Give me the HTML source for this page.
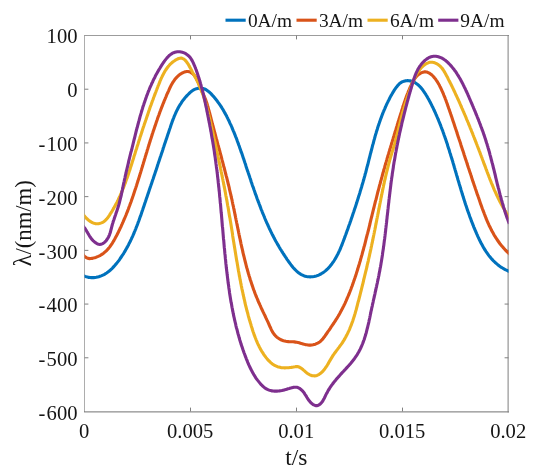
<!DOCTYPE html>
<html><head><meta charset="utf-8"><title>plot</title>
<style>
html,body{margin:0;padding:0;background:#fff;}
body{width:550px;height:476px;overflow:hidden;}
svg{display:block;}
text{font-family:"Liberation Serif",serif;fill:#151515;}
</style></head><body>
<svg width="550" height="476" viewBox="0 0 550 476">
<rect x="0" y="0" width="550" height="476" fill="#fff"/>

<g fill="none" stroke-width="1" shape-rendering="crispEdges">
<line x1="84.0" y1="35.5" x2="509.0" y2="35.5" stroke="#9c9c9c"/>
<line x1="84.5" y1="35.5" x2="84.5" y2="412.0" stroke="#adadad"/>
</g>
<g fill="none">
<line x1="84.0" y1="411.9" x2="509.0" y2="411.9" stroke="#727272" stroke-width="1"/>
<line x1="508.1" y1="35.0" x2="508.1" y2="412.4" stroke="#7e7e7e" stroke-width="1"/>
</g>
<g fill="none" stroke="#808080" stroke-width="1">
<line x1="190.5" y1="411.5" x2="190.5" y2="407.6"/>
<line x1="190.5" y1="35.5" x2="190.5" y2="39.4"/>
<line x1="296.5" y1="411.5" x2="296.5" y2="407.6"/>
<line x1="296.5" y1="35.5" x2="296.5" y2="39.4"/>
<line x1="402.5" y1="411.5" x2="402.5" y2="407.6"/>
<line x1="402.5" y1="35.5" x2="402.5" y2="39.4"/>
<line x1="84.5" y1="89.21" x2="88.4" y2="89.21"/>
<line x1="508.5" y1="89.21" x2="504.6" y2="89.21"/>
<line x1="84.5" y1="142.93" x2="88.4" y2="142.93"/>
<line x1="508.5" y1="142.93" x2="504.6" y2="142.93"/>
<line x1="84.5" y1="196.64" x2="88.4" y2="196.64"/>
<line x1="508.5" y1="196.64" x2="504.6" y2="196.64"/>
<line x1="84.5" y1="250.36" x2="88.4" y2="250.36"/>
<line x1="508.5" y1="250.36" x2="504.6" y2="250.36"/>
<line x1="84.5" y1="304.07" x2="88.4" y2="304.07"/>
<line x1="508.5" y1="304.07" x2="504.6" y2="304.07"/>
<line x1="84.5" y1="357.79" x2="88.4" y2="357.79"/>
<line x1="508.5" y1="357.79" x2="504.6" y2="357.79"/>
</g>
<clipPath id="c"><rect x="84.5" y="35.5" width="424.0" height="376.0"/></clipPath>
<g fill="none" stroke-width="3.1" stroke-linejoin="round" stroke-linecap="butt" clip-path="url(#c)">
<path stroke="#0072BD" d="M81.9,274.6 L82.9,275.3 L84.0,275.9 L85.1,276.4 L86.3,276.8 L87.5,277.1 L88.7,277.4 L90.0,277.5 L91.3,277.6 L92.5,277.6 L93.8,277.6 L95.1,277.5 L96.3,277.3 L97.6,277.0 L98.8,276.7 L100.0,276.3 L101.2,275.9 L102.3,275.4 L103.4,274.9 L104.5,274.3 L105.5,273.7 L106.6,273.0 L107.6,272.3 L108.6,271.6 L109.5,270.8 L110.5,270.0 L111.4,269.1 L112.3,268.3 L113.1,267.4 L114.0,266.4 L114.8,265.5 L115.6,264.5 L116.4,263.6 L117.2,262.6 L118.0,261.6 L118.8,260.6 L119.5,259.6 L120.2,258.5 L120.9,257.5 L121.6,256.5 L122.3,255.4 L123.0,254.4 L123.7,253.3 L124.3,252.3 L125.0,251.2 L125.6,250.1 L126.2,249.0 L126.8,247.9 L127.4,246.9 L128.0,245.8 L128.6,244.7 L129.1,243.5 L129.7,242.4 L130.3,241.3 L130.8,240.2 L131.3,239.1 L131.8,237.9 L132.4,236.8 L132.9,235.7 L133.4,234.5 L133.9,233.4 L134.3,232.2 L134.8,231.1 L135.3,229.9 L135.8,228.8 L136.2,227.6 L136.7,226.4 L137.1,225.3 L137.6,224.1 L138.0,222.9 L138.4,221.8 L138.9,220.6 L139.3,219.4 L139.7,218.2 L140.1,217.0 L140.6,215.9 L141.0,214.7 L141.4,213.5 L141.8,212.3 L142.2,211.1 L142.6,210.0 L143.0,208.8 L143.4,207.6 L143.8,206.4 L144.2,205.2 L144.6,204.0 L145.0,202.8 L145.4,201.7 L145.8,200.5 L146.2,199.3 L146.6,198.1 L147.0,196.9 L147.4,195.7 L147.8,194.5 L148.2,193.4 L148.6,192.2 L149.0,191.0 L149.4,189.8 L149.8,188.6 L150.2,187.4 L150.6,186.3 L151.0,185.1 L151.4,183.9 L151.8,182.7 L152.2,181.5 L152.6,180.3 L153.0,179.2 L153.4,178.0 L153.8,176.8 L154.2,175.6 L154.6,174.4 L155.0,173.2 L155.4,172.0 L155.8,170.9 L156.2,169.7 L156.6,168.5 L157.0,167.3 L157.4,166.1 L157.7,164.9 L158.1,163.8 L158.5,162.6 L158.9,161.4 L159.3,160.2 L159.7,159.0 L160.1,157.8 L160.5,156.6 L160.9,155.5 L161.3,154.3 L161.7,153.1 L162.1,151.9 L162.5,150.7 L162.9,149.5 L163.2,148.3 L163.6,147.2 L164.0,146.0 L164.4,144.8 L164.8,143.6 L165.2,142.4 L165.6,141.2 L166.0,140.0 L166.4,138.9 L166.8,137.7 L167.2,136.5 L167.6,135.3 L168.0,134.1 L168.4,132.9 L168.8,131.7 L169.2,130.5 L169.6,129.3 L170.0,128.2 L170.4,127.0 L170.8,125.8 L171.2,124.6 L171.6,123.4 L172.0,122.2 L172.4,121.1 L172.9,119.9 L173.3,118.7 L173.8,117.6 L174.2,116.4 L174.7,115.3 L175.2,114.2 L175.7,113.0 L176.2,111.9 L176.7,110.8 L177.3,109.7 L177.9,108.6 L178.4,107.5 L179.0,106.4 L179.7,105.4 L180.3,104.3 L181.0,103.3 L181.7,102.2 L182.4,101.2 L183.1,100.2 L183.9,99.3 L184.6,98.3 L185.5,97.3 L186.3,96.4 L187.2,95.4 L188.1,94.5 L189.0,93.6 L189.9,92.7 L190.9,91.8 L192.0,91.0 L193.0,90.3 L194.1,89.6 L195.2,89.1 L196.4,88.7 L197.6,88.4 L198.8,88.2 L200.0,88.1 L201.2,88.2 L202.3,88.4 L203.5,88.6 L204.6,89.0 L205.8,89.5 L206.8,90.2 L207.8,90.9 L208.8,91.7 L209.8,92.5 L210.7,93.4 L211.6,94.4 L212.5,95.4 L213.4,96.3 L214.2,97.3 L215.0,98.3 L215.8,99.3 L216.6,100.3 L217.4,101.3 L218.1,102.3 L218.9,103.4 L219.6,104.4 L220.3,105.4 L221.0,106.5 L221.7,107.5 L222.3,108.6 L223.0,109.6 L223.6,110.7 L224.2,111.8 L224.8,112.9 L225.4,113.9 L226.0,115.0 L226.6,116.1 L227.1,117.2 L227.7,118.3 L228.2,119.4 L228.8,120.5 L229.3,121.6 L229.8,122.8 L230.3,123.9 L230.9,125.0 L231.4,126.2 L231.9,127.3 L232.3,128.5 L232.8,129.6 L233.3,130.8 L233.8,131.9 L234.3,133.1 L234.7,134.2 L235.2,135.4 L235.6,136.6 L236.1,137.7 L236.6,138.9 L237.0,140.1 L237.4,141.3 L237.9,142.5 L238.3,143.6 L238.7,144.8 L239.2,146.0 L239.6,147.2 L240.0,148.4 L240.4,149.6 L240.8,150.8 L241.2,152.0 L241.7,153.1 L242.1,154.3 L242.5,155.5 L242.9,156.7 L243.3,157.9 L243.7,159.1 L244.1,160.3 L244.5,161.5 L244.9,162.7 L245.3,163.8 L245.7,165.0 L246.0,166.2 L246.4,167.4 L246.8,168.6 L247.2,169.7 L247.6,170.9 L248.0,172.1 L248.4,173.3 L248.8,174.4 L249.2,175.6 L249.6,176.8 L250.0,178.0 L250.4,179.1 L250.8,180.3 L251.1,181.5 L251.5,182.6 L251.9,183.8 L252.3,185.0 L252.7,186.1 L253.2,187.3 L253.6,188.5 L254.0,189.7 L254.4,190.8 L254.8,192.0 L255.2,193.2 L255.6,194.4 L256.1,195.5 L256.5,196.7 L256.9,197.9 L257.3,199.1 L257.8,200.3 L258.2,201.5 L258.7,202.6 L259.1,203.8 L259.6,205.0 L260.0,206.2 L260.5,207.4 L260.9,208.6 L261.4,209.8 L261.9,210.9 L262.3,212.1 L262.8,213.3 L263.3,214.5 L263.8,215.7 L264.3,216.8 L264.7,218.0 L265.2,219.2 L265.7,220.3 L266.2,221.5 L266.7,222.7 L267.3,223.8 L267.8,225.0 L268.3,226.1 L268.8,227.2 L269.3,228.4 L269.9,229.5 L270.4,230.6 L270.9,231.7 L271.5,232.8 L272.0,233.9 L272.6,235.0 L273.1,236.1 L273.7,237.2 L274.3,238.3 L274.8,239.3 L275.4,240.4 L276.0,241.5 L276.6,242.5 L277.2,243.6 L277.8,244.6 L278.4,245.6 L279.0,246.7 L279.6,247.7 L280.2,248.8 L280.9,249.8 L281.5,250.8 L282.2,251.9 L282.8,252.9 L283.5,254.0 L284.2,255.0 L284.9,256.1 L285.6,257.2 L286.3,258.2 L287.0,259.3 L287.8,260.4 L288.5,261.5 L289.3,262.5 L290.1,263.6 L290.9,264.7 L291.7,265.7 L292.5,266.7 L293.3,267.7 L294.2,268.7 L295.1,269.6 L296.0,270.5 L296.9,271.4 L297.9,272.2 L298.9,273.0 L299.9,273.7 L300.9,274.3 L302.0,274.9 L303.1,275.4 L304.2,275.9 L305.3,276.2 L306.5,276.5 L307.7,276.7 L308.9,276.8 L310.2,276.9 L311.4,276.8 L312.7,276.7 L314.0,276.5 L315.2,276.2 L316.4,275.9 L317.6,275.5 L318.7,275.1 L319.8,274.5 L320.9,274.0 L322.0,273.3 L323.1,272.6 L324.1,271.9 L325.1,271.1 L326.0,270.3 L326.9,269.5 L327.9,268.6 L328.7,267.7 L329.6,266.7 L330.4,265.7 L331.2,264.7 L332.0,263.7 L332.7,262.7 L333.5,261.6 L334.2,260.5 L334.8,259.5 L335.5,258.4 L336.1,257.3 L336.7,256.2 L337.3,255.1 L337.9,254.0 L338.4,252.9 L338.9,251.8 L339.5,250.6 L340.0,249.5 L340.5,248.4 L340.9,247.2 L341.4,246.1 L341.9,245.0 L342.3,243.8 L342.7,242.7 L343.2,241.5 L343.6,240.3 L344.1,239.2 L344.5,238.0 L344.9,236.9 L345.3,235.7 L345.8,234.5 L346.2,233.4 L346.6,232.2 L347.0,231.0 L347.5,229.9 L347.9,228.7 L348.3,227.5 L348.7,226.3 L349.1,225.2 L349.6,224.0 L350.0,222.8 L350.4,221.6 L350.8,220.5 L351.2,219.3 L351.6,218.1 L352.0,216.9 L352.4,215.7 L352.8,214.5 L353.2,213.3 L353.6,212.2 L354.0,211.0 L354.4,209.8 L354.8,208.6 L355.2,207.4 L355.6,206.2 L356.0,205.0 L356.4,203.8 L356.8,202.6 L357.1,201.4 L357.5,200.2 L357.9,199.0 L358.3,197.8 L358.6,196.6 L359.0,195.4 L359.4,194.2 L359.8,193.0 L360.1,191.8 L360.5,190.6 L360.8,189.4 L361.2,188.2 L361.6,187.0 L361.9,185.8 L362.3,184.6 L362.6,183.4 L363.0,182.2 L363.3,181.0 L363.7,179.8 L364.0,178.6 L364.3,177.4 L364.7,176.2 L365.0,175.0 L365.3,173.7 L365.7,172.5 L366.0,171.3 L366.3,170.1 L366.6,168.9 L366.9,167.7 L367.2,166.5 L367.6,165.3 L367.9,164.1 L368.2,162.8 L368.5,161.6 L368.8,160.4 L369.1,159.2 L369.4,158.0 L369.7,156.8 L370.0,155.6 L370.3,154.4 L370.6,153.2 L371.0,152.0 L371.3,150.7 L371.6,149.5 L371.9,148.3 L372.2,147.1 L372.5,145.9 L372.8,144.7 L373.2,143.5 L373.5,142.3 L373.8,141.1 L374.1,139.9 L374.5,138.7 L374.8,137.5 L375.1,136.3 L375.5,135.1 L375.8,133.9 L376.2,132.7 L376.5,131.5 L376.9,130.4 L377.3,129.2 L377.6,128.0 L378.0,126.8 L378.4,125.6 L378.8,124.4 L379.2,123.3 L379.6,122.1 L380.0,120.9 L380.4,119.7 L380.8,118.6 L381.3,117.4 L381.7,116.2 L382.1,115.1 L382.6,113.9 L383.0,112.7 L383.5,111.6 L384.0,110.4 L384.5,109.3 L385.0,108.1 L385.5,107.0 L386.0,105.8 L386.5,104.7 L387.0,103.6 L387.6,102.4 L388.1,101.3 L388.7,100.2 L389.3,99.0 L389.8,97.9 L390.4,96.8 L391.0,95.7 L391.7,94.6 L392.3,93.5 L392.9,92.4 L393.6,91.3 L394.3,90.2 L395.0,89.2 L395.7,88.2 L396.4,87.2 L397.2,86.2 L397.9,85.3 L398.8,84.4 L399.6,83.5 L400.6,82.8 L401.6,82.2 L402.7,81.6 L403.9,81.2 L405.1,80.9 L406.4,80.7 L407.6,80.6 L408.9,80.7 L410.1,80.9 L411.4,81.1 L412.6,81.5 L413.7,82.0 L414.8,82.5 L415.9,83.2 L416.9,83.9 L417.9,84.7 L418.8,85.5 L419.7,86.4 L420.6,87.3 L421.4,88.3 L422.2,89.3 L423.0,90.3 L423.7,91.3 L424.4,92.3 L425.1,93.4 L425.8,94.4 L426.4,95.5 L427.1,96.6 L427.7,97.7 L428.3,98.7 L428.9,99.8 L429.5,100.9 L430.1,102.0 L430.6,103.1 L431.2,104.2 L431.8,105.4 L432.3,106.5 L432.9,107.6 L433.4,108.7 L433.9,109.8 L434.5,111.0 L435.0,112.1 L435.5,113.2 L436.0,114.4 L436.5,115.5 L437.0,116.7 L437.5,117.8 L438.0,119.0 L438.5,120.1 L438.9,121.3 L439.4,122.4 L439.9,123.6 L440.3,124.7 L440.8,125.9 L441.2,127.1 L441.7,128.3 L442.1,129.4 L442.6,130.6 L443.0,131.8 L443.4,132.9 L443.8,134.1 L444.2,135.3 L444.7,136.5 L445.1,137.7 L445.5,138.9 L445.9,140.0 L446.3,141.2 L446.7,142.4 L447.1,143.6 L447.5,144.8 L447.8,146.0 L448.2,147.2 L448.6,148.4 L449.0,149.6 L449.4,150.8 L449.7,152.0 L450.1,153.2 L450.5,154.3 L450.8,155.5 L451.2,156.7 L451.6,157.9 L451.9,159.1 L452.3,160.3 L452.7,161.5 L453.0,162.7 L453.4,163.9 L453.7,165.1 L454.1,166.3 L454.4,167.5 L454.8,168.7 L455.1,169.9 L455.5,171.1 L455.8,172.3 L456.2,173.5 L456.5,174.7 L456.9,175.9 L457.2,177.1 L457.6,178.3 L457.9,179.5 L458.3,180.7 L458.6,181.8 L459.0,183.0 L459.3,184.2 L459.7,185.4 L460.1,186.6 L460.4,187.8 L460.8,189.0 L461.1,190.2 L461.5,191.4 L461.9,192.6 L462.2,193.8 L462.6,195.0 L463.0,196.2 L463.3,197.3 L463.7,198.5 L464.1,199.7 L464.5,200.9 L464.8,202.1 L465.2,203.3 L465.6,204.5 L466.0,205.6 L466.4,206.8 L466.8,208.0 L467.2,209.2 L467.6,210.4 L468.0,211.5 L468.4,212.7 L468.9,213.9 L469.3,215.1 L469.7,216.3 L470.1,217.4 L470.6,218.6 L471.0,219.8 L471.4,221.0 L471.9,222.1 L472.4,223.3 L472.8,224.5 L473.3,225.6 L473.7,226.8 L474.2,228.0 L474.7,229.1 L475.2,230.3 L475.7,231.5 L476.2,232.6 L476.7,233.8 L477.2,234.9 L477.7,236.1 L478.2,237.2 L478.8,238.4 L479.3,239.5 L479.9,240.7 L480.4,241.8 L481.0,242.9 L481.6,244.0 L482.2,245.1 L482.8,246.2 L483.4,247.3 L484.1,248.4 L484.7,249.5 L485.4,250.5 L486.1,251.6 L486.8,252.6 L487.5,253.6 L488.2,254.6 L488.9,255.6 L489.7,256.6 L490.5,257.5 L491.3,258.5 L492.1,259.4 L492.9,260.3 L493.8,261.1 L494.7,262.0 L495.5,262.8 L496.5,263.6 L497.4,264.4 L498.4,265.2 L499.4,266.0 L500.4,266.7 L501.4,267.4 L502.5,268.0 L503.6,268.7 L504.7,269.3 L505.8,269.9 L507.0,270.4 L508.2,271.0 L509.4,271.5 L510.7,271.9"/>
<path stroke="#D95319" d="M82.2,252.9 L83.1,254.5 L84.0,255.8 L85.1,256.8 L86.2,257.6 L87.3,258.1 L88.4,258.4 L89.6,258.6 L90.8,258.5 L92.1,258.4 L93.3,258.1 L94.5,257.8 L95.8,257.4 L97.0,256.9 L98.2,256.4 L99.3,255.9 L100.5,255.3 L101.5,254.6 L102.6,253.9 L103.6,253.2 L104.5,252.4 L105.4,251.6 L106.3,250.8 L107.2,249.9 L108.0,249.0 L108.8,248.1 L109.6,247.1 L110.3,246.1 L111.0,245.1 L111.7,244.1 L112.4,243.1 L113.0,242.0 L113.7,240.9 L114.3,239.8 L114.9,238.8 L115.5,237.6 L116.1,236.5 L116.7,235.4 L117.3,234.3 L117.8,233.2 L118.4,232.0 L118.9,230.9 L119.5,229.8 L120.0,228.6 L120.6,227.5 L121.1,226.4 L121.6,225.2 L122.1,224.1 L122.6,222.9 L123.1,221.8 L123.6,220.6 L124.1,219.5 L124.6,218.3 L125.1,217.2 L125.6,216.0 L126.1,214.8 L126.5,213.7 L127.0,212.5 L127.5,211.4 L127.9,210.2 L128.4,209.0 L128.8,207.8 L129.2,206.7 L129.7,205.5 L130.1,204.3 L130.5,203.2 L131.0,202.0 L131.4,200.8 L131.8,199.6 L132.2,198.4 L132.6,197.2 L133.0,196.1 L133.4,194.9 L133.8,193.7 L134.2,192.5 L134.6,191.3 L135.0,190.1 L135.4,188.9 L135.8,187.8 L136.2,186.6 L136.6,185.4 L136.9,184.2 L137.3,183.0 L137.7,181.8 L138.1,180.6 L138.4,179.4 L138.8,178.2 L139.2,177.0 L139.6,175.8 L139.9,174.6 L140.3,173.4 L140.7,172.2 L141.0,171.1 L141.4,169.9 L141.7,168.7 L142.1,167.5 L142.5,166.3 L142.8,165.1 L143.2,163.9 L143.5,162.7 L143.9,161.5 L144.3,160.3 L144.6,159.1 L145.0,157.9 L145.3,156.7 L145.7,155.5 L146.1,154.3 L146.4,153.2 L146.8,152.0 L147.1,150.8 L147.5,149.6 L147.9,148.4 L148.2,147.2 L148.6,146.0 L149.0,144.8 L149.3,143.6 L149.7,142.4 L150.1,141.3 L150.4,140.1 L150.8,138.9 L151.2,137.7 L151.6,136.5 L152.0,135.3 L152.3,134.1 L152.7,133.0 L153.1,131.8 L153.5,130.6 L153.9,129.4 L154.3,128.2 L154.7,127.0 L155.1,125.9 L155.5,124.7 L155.9,123.5 L156.3,122.3 L156.7,121.1 L157.1,120.0 L157.5,118.8 L157.9,117.6 L158.3,116.4 L158.8,115.3 L159.2,114.1 L159.6,112.9 L160.0,111.7 L160.5,110.6 L160.9,109.4 L161.4,108.2 L161.8,107.0 L162.3,105.9 L162.7,104.7 L163.2,103.5 L163.7,102.4 L164.1,101.2 L164.6,100.0 L165.1,98.9 L165.6,97.7 L166.1,96.6 L166.5,95.4 L167.0,94.2 L167.6,93.1 L168.1,91.9 L168.6,90.8 L169.1,89.6 L169.6,88.5 L170.2,87.3 L170.7,86.2 L171.3,85.1 L171.9,84.0 L172.5,82.9 L173.2,81.8 L173.9,80.8 L174.6,79.8 L175.4,78.8 L176.2,77.9 L177.0,77.0 L177.9,76.2 L178.8,75.3 L179.8,74.6 L180.9,73.8 L182.0,73.2 L183.1,72.6 L184.3,72.1 L185.6,71.7 L186.8,71.5 L188.0,71.5 L189.2,71.7 L190.3,72.2 L191.4,72.8 L192.4,73.6 L193.4,74.4 L194.2,75.3 L195.0,76.3 L195.6,77.2 L196.3,78.3 L196.8,79.4 L197.4,80.5 L197.9,81.6 L198.4,82.7 L198.8,83.9 L199.3,85.1 L199.8,86.3 L200.2,87.5 L200.7,88.7 L201.3,90.0 L201.8,91.2 L202.4,92.4 L203.0,93.6 L203.6,94.8 L204.1,96.0 L204.6,97.2 L205.1,98.3 L205.6,99.5 L206.0,100.7 L206.4,101.9 L206.8,103.1 L207.2,104.3 L207.5,105.5 L207.9,106.6 L208.2,107.8 L208.5,109.0 L208.8,110.2 L209.1,111.3 L209.5,112.5 L209.8,113.7 L210.1,114.9 L210.4,116.0 L210.7,117.2 L211.0,118.4 L211.3,119.6 L211.6,120.7 L211.9,121.9 L212.2,123.1 L212.5,124.3 L212.9,125.5 L213.2,126.6 L213.5,127.8 L213.8,129.0 L214.1,130.2 L214.4,131.4 L214.7,132.6 L215.1,133.8 L215.4,134.9 L215.7,136.1 L216.0,137.3 L216.3,138.5 L216.7,139.7 L217.0,140.9 L217.3,142.1 L217.6,143.3 L217.9,144.5 L218.3,145.7 L218.6,146.9 L218.9,148.1 L219.2,149.3 L219.6,150.5 L219.9,151.7 L220.2,152.9 L220.5,154.1 L220.9,155.3 L221.2,156.5 L221.5,157.7 L221.8,158.9 L222.1,160.2 L222.5,161.4 L222.8,162.6 L223.1,163.8 L223.4,165.0 L223.7,166.2 L224.1,167.4 L224.4,168.6 L224.7,169.9 L225.0,171.1 L225.3,172.3 L225.6,173.5 L225.9,174.7 L226.2,175.9 L226.6,177.2 L226.9,178.4 L227.2,179.6 L227.5,180.8 L227.8,182.0 L228.1,183.3 L228.4,184.5 L228.7,185.7 L229.0,186.9 L229.3,188.2 L229.5,189.4 L229.8,190.6 L230.1,191.8 L230.4,193.1 L230.7,194.3 L231.0,195.5 L231.2,196.7 L231.5,198.0 L231.8,199.2 L232.1,200.4 L232.3,201.6 L232.6,202.9 L232.8,204.1 L233.1,205.3 L233.4,206.6 L233.6,207.8 L233.9,209.0 L234.1,210.2 L234.4,211.5 L234.6,212.7 L234.9,213.9 L235.1,215.2 L235.4,216.4 L235.6,217.6 L235.9,218.8 L236.1,220.1 L236.4,221.3 L236.6,222.5 L236.9,223.8 L237.1,225.0 L237.4,226.2 L237.6,227.4 L237.9,228.7 L238.1,229.9 L238.4,231.1 L238.6,232.3 L238.9,233.6 L239.1,234.8 L239.4,236.0 L239.6,237.2 L239.9,238.5 L240.2,239.7 L240.4,240.9 L240.7,242.1 L240.9,243.3 L241.2,244.6 L241.5,245.8 L241.7,247.0 L242.0,248.2 L242.3,249.4 L242.6,250.6 L242.8,251.9 L243.1,253.1 L243.4,254.3 L243.7,255.5 L244.0,256.7 L244.3,257.9 L244.6,259.1 L244.9,260.3 L245.2,261.5 L245.5,262.7 L245.8,263.9 L246.1,265.1 L246.4,266.3 L246.7,267.5 L247.1,268.7 L247.4,269.9 L247.7,271.1 L248.1,272.3 L248.4,273.5 L248.8,274.7 L249.1,275.9 L249.5,277.1 L249.9,278.3 L250.2,279.5 L250.6,280.6 L251.0,281.8 L251.4,283.0 L251.8,284.2 L252.2,285.4 L252.6,286.5 L253.0,287.7 L253.4,288.9 L253.8,290.1 L254.3,291.2 L254.7,292.4 L255.1,293.6 L255.6,294.7 L256.0,295.9 L256.5,297.0 L257.0,298.2 L257.5,299.3 L257.9,300.5 L258.4,301.6 L258.9,302.8 L259.5,303.9 L260.0,305.1 L260.5,306.2 L261.0,307.4 L261.5,308.5 L262.1,309.7 L262.6,310.8 L263.1,311.9 L263.7,313.1 L264.2,314.2 L264.8,315.3 L265.3,316.5 L265.8,317.6 L266.4,318.8 L266.9,319.9 L267.5,321.1 L268.0,322.2 L268.5,323.3 L269.0,324.5 L269.5,325.6 L270.0,326.8 L270.6,327.9 L271.1,329.1 L271.6,330.2 L272.2,331.3 L272.8,332.4 L273.5,333.4 L274.2,334.4 L275.0,335.3 L275.8,336.2 L276.8,337.1 L277.7,337.8 L278.8,338.5 L279.9,339.2 L281.0,339.8 L282.2,340.3 L283.4,340.7 L284.6,341.0 L285.8,341.3 L287.0,341.5 L288.2,341.6 L289.4,341.7 L290.6,341.7 L291.8,341.8 L293.1,341.8 L294.3,341.9 L295.5,342.1 L296.7,342.3 L297.9,342.5 L299.2,342.8 L300.4,343.2 L301.6,343.6 L302.9,343.9 L304.1,344.3 L305.4,344.6 L306.7,344.8 L307.9,345.0 L309.2,345.1 L310.5,345.1 L311.8,345.0 L313.0,344.8 L314.2,344.5 L315.4,344.2 L316.5,343.7 L317.6,343.2 L318.7,342.6 L319.7,341.9 L320.6,341.2 L321.4,340.3 L322.3,339.5 L323.1,338.5 L323.8,337.5 L324.6,336.6 L325.3,335.5 L326.0,334.5 L326.7,333.5 L327.4,332.5 L328.1,331.4 L328.9,330.4 L329.6,329.3 L330.3,328.3 L331.0,327.2 L331.7,326.2 L332.4,325.1 L333.2,324.0 L333.9,323.0 L334.6,321.9 L335.3,320.8 L336.0,319.7 L336.7,318.6 L337.3,317.6 L338.0,316.5 L338.6,315.4 L339.3,314.3 L339.9,313.2 L340.5,312.0 L341.1,310.9 L341.7,309.8 L342.3,308.7 L342.9,307.6 L343.5,306.4 L344.0,305.3 L344.6,304.2 L345.1,303.1 L345.6,301.9 L346.1,300.8 L346.6,299.6 L347.1,298.5 L347.6,297.3 L348.1,296.2 L348.6,295.0 L349.1,293.9 L349.5,292.7 L350.0,291.6 L350.4,290.4 L350.9,289.3 L351.3,288.1 L351.7,286.9 L352.2,285.8 L352.6,284.6 L353.0,283.4 L353.4,282.3 L353.8,281.1 L354.2,279.9 L354.6,278.7 L355.0,277.6 L355.4,276.4 L355.8,275.2 L356.2,274.0 L356.5,272.9 L356.9,271.7 L357.3,270.5 L357.7,269.3 L358.0,268.1 L358.4,266.9 L358.8,265.8 L359.1,264.6 L359.5,263.4 L359.8,262.2 L360.2,261.0 L360.5,259.8 L360.8,258.6 L361.2,257.4 L361.5,256.2 L361.9,255.0 L362.2,253.9 L362.5,252.7 L362.8,251.5 L363.2,250.3 L363.5,249.1 L363.8,247.9 L364.1,246.7 L364.5,245.5 L364.8,244.3 L365.1,243.1 L365.4,241.9 L365.7,240.7 L366.0,239.4 L366.3,238.2 L366.6,237.0 L366.9,235.8 L367.2,234.6 L367.6,233.4 L367.9,232.2 L368.2,231.0 L368.5,229.8 L368.8,228.6 L369.1,227.4 L369.4,226.2 L369.7,225.0 L370.0,223.7 L370.2,222.5 L370.5,221.3 L370.8,220.1 L371.1,218.9 L371.4,217.7 L371.7,216.5 L372.0,215.3 L372.3,214.0 L372.6,212.8 L372.9,211.6 L373.2,210.4 L373.5,209.2 L373.8,208.0 L374.1,206.8 L374.4,205.5 L374.7,204.3 L375.0,203.1 L375.3,201.9 L375.6,200.7 L376.0,199.5 L376.3,198.3 L376.6,197.0 L376.9,195.8 L377.2,194.6 L377.5,193.4 L377.8,192.2 L378.1,191.0 L378.5,189.8 L378.8,188.5 L379.1,187.3 L379.4,186.1 L379.7,184.9 L380.1,183.7 L380.4,182.5 L380.7,181.2 L381.1,180.0 L381.4,178.8 L381.7,177.6 L382.1,176.4 L382.4,175.2 L382.7,174.0 L383.1,172.8 L383.4,171.5 L383.8,170.3 L384.1,169.1 L384.5,167.9 L384.8,166.7 L385.1,165.5 L385.5,164.3 L385.8,163.1 L386.2,161.9 L386.5,160.7 L386.9,159.4 L387.2,158.2 L387.6,157.0 L388.0,155.8 L388.3,154.6 L388.7,153.4 L389.0,152.2 L389.4,151.0 L389.7,149.8 L390.1,148.6 L390.5,147.4 L390.8,146.2 L391.2,145.0 L391.5,143.8 L391.9,142.6 L392.3,141.4 L392.6,140.2 L393.0,139.0 L393.3,137.8 L393.7,136.6 L394.1,135.4 L394.4,134.2 L394.8,133.0 L395.2,131.8 L395.5,130.6 L395.9,129.5 L396.3,128.3 L396.6,127.1 L397.0,125.9 L397.3,124.7 L397.7,123.5 L398.1,122.3 L398.4,121.2 L398.8,120.0 L399.2,118.8 L399.5,117.6 L399.9,116.4 L400.3,115.3 L400.6,114.1 L401.0,112.9 L401.4,111.7 L401.7,110.6 L402.1,109.4 L402.5,108.2 L402.8,107.0 L403.2,105.9 L403.6,104.7 L404.0,103.5 L404.4,102.4 L404.8,101.2 L405.2,100.0 L405.6,98.9 L406.0,97.7 L406.4,96.5 L406.9,95.4 L407.3,94.2 L407.8,93.1 L408.2,91.9 L408.7,90.7 L409.2,89.6 L409.7,88.4 L410.2,87.2 L410.7,86.1 L411.3,84.9 L411.8,83.7 L412.4,82.6 L413.0,81.5 L413.6,80.4 L414.3,79.3 L415.0,78.2 L415.8,77.2 L416.6,76.3 L417.5,75.4 L418.5,74.6 L419.5,73.9 L420.6,73.2 L421.7,72.6 L422.9,72.2 L424.1,71.9 L425.3,71.9 L426.5,72.0 L427.6,72.3 L428.7,72.8 L429.8,73.4 L430.9,74.2 L431.9,75.0 L432.9,76.0 L433.8,77.0 L434.6,78.0 L435.5,79.0 L436.2,80.1 L436.9,81.1 L437.6,82.2 L438.2,83.2 L438.8,84.3 L439.4,85.3 L439.9,86.4 L440.5,87.5 L441.0,88.6 L441.5,89.7 L442.0,90.8 L442.5,91.9 L443.0,93.0 L443.5,94.2 L443.9,95.3 L444.4,96.5 L444.9,97.6 L445.3,98.8 L445.8,100.0 L446.2,101.1 L446.6,102.3 L447.1,103.5 L447.5,104.7 L447.9,105.9 L448.3,107.1 L448.7,108.3 L449.2,109.5 L449.6,110.7 L450.0,111.9 L450.4,113.1 L450.8,114.3 L451.2,115.4 L451.6,116.6 L452.0,117.8 L452.4,119.0 L452.8,120.2 L453.2,121.4 L453.6,122.6 L454.0,123.8 L454.4,125.0 L454.8,126.2 L455.2,127.4 L455.6,128.6 L456.0,129.7 L456.4,130.9 L456.8,132.1 L457.1,133.3 L457.5,134.5 L457.9,135.7 L458.3,136.9 L458.7,138.1 L459.1,139.3 L459.5,140.4 L459.9,141.6 L460.3,142.8 L460.7,144.0 L461.0,145.2 L461.4,146.4 L461.8,147.5 L462.2,148.7 L462.6,149.9 L463.0,151.1 L463.4,152.3 L463.8,153.5 L464.1,154.7 L464.5,155.8 L464.9,157.0 L465.3,158.2 L465.7,159.4 L466.1,160.6 L466.5,161.8 L466.9,162.9 L467.2,164.1 L467.6,165.3 L468.0,166.5 L468.4,167.7 L468.8,168.8 L469.2,170.0 L469.6,171.2 L470.0,172.4 L470.4,173.6 L470.8,174.8 L471.2,175.9 L471.5,177.1 L471.9,178.3 L472.3,179.5 L472.7,180.7 L473.1,181.9 L473.5,183.0 L473.9,184.2 L474.3,185.4 L474.7,186.6 L475.1,187.8 L475.5,189.0 L475.9,190.1 L476.3,191.3 L476.7,192.5 L477.1,193.7 L477.5,194.9 L478.0,196.1 L478.4,197.3 L478.8,198.4 L479.2,199.6 L479.6,200.8 L480.0,202.0 L480.4,203.2 L480.8,204.4 L481.3,205.6 L481.7,206.7 L482.1,207.9 L482.5,209.1 L483.0,210.3 L483.4,211.5 L483.9,212.6 L484.3,213.8 L484.8,215.0 L485.2,216.2 L485.7,217.3 L486.1,218.5 L486.6,219.6 L487.1,220.8 L487.6,222.0 L488.1,223.1 L488.6,224.2 L489.1,225.4 L489.7,226.5 L490.2,227.6 L490.8,228.7 L491.3,229.8 L491.9,230.9 L492.5,232.0 L493.1,233.1 L493.7,234.2 L494.3,235.3 L495.0,236.3 L495.6,237.4 L496.3,238.4 L497.0,239.5 L497.7,240.5 L498.4,241.5 L499.1,242.5 L499.8,243.5 L500.6,244.5 L501.4,245.5 L502.2,246.4 L503.0,247.4 L503.8,248.3 L504.7,249.3 L505.5,250.2 L506.4,251.1 L507.3,252.0 L508.3,252.8 L509.2,253.7 L510.2,254.6"/>
<path stroke="#EDB120" d="M83.0,214.3 L83.6,215.0 L84.2,215.9 L85.0,216.7 L85.8,217.6 L86.6,218.5 L87.6,219.3 L88.5,220.2 L89.6,220.9 L90.7,221.7 L91.8,222.3 L92.9,222.9 L94.1,223.3 L95.3,223.6 L96.5,223.8 L97.8,223.8 L99.0,223.6 L100.2,223.3 L101.4,222.9 L102.6,222.4 L103.7,221.7 L104.7,221.0 L105.6,220.1 L106.5,219.2 L107.3,218.3 L108.0,217.3 L108.7,216.3 L109.4,215.3 L110.1,214.2 L110.8,213.2 L111.4,212.1 L112.1,211.1 L112.7,210.0 L113.3,208.9 L113.9,207.9 L114.5,206.8 L115.1,205.7 L115.7,204.6 L116.3,203.5 L116.9,202.4 L117.4,201.3 L118.0,200.2 L118.5,199.0 L119.0,197.9 L119.6,196.8 L120.1,195.7 L120.6,194.5 L121.1,193.4 L121.6,192.2 L122.1,191.1 L122.5,189.9 L123.0,188.8 L123.5,187.6 L123.9,186.5 L124.4,185.3 L124.8,184.1 L125.3,183.0 L125.7,181.8 L126.1,180.6 L126.5,179.4 L127.0,178.2 L127.4,177.1 L127.8,175.9 L128.2,174.7 L128.6,173.5 L129.0,172.3 L129.4,171.1 L129.8,169.9 L130.2,168.7 L130.5,167.5 L130.9,166.4 L131.3,165.2 L131.7,164.0 L132.1,162.8 L132.4,161.6 L132.8,160.4 L133.2,159.2 L133.6,158.0 L133.9,156.8 L134.3,155.6 L134.7,154.4 L135.1,153.2 L135.4,152.0 L135.8,150.8 L136.2,149.6 L136.6,148.5 L136.9,147.3 L137.3,146.1 L137.7,144.9 L138.1,143.7 L138.4,142.5 L138.8,141.3 L139.2,140.1 L139.6,139.0 L139.9,137.8 L140.3,136.6 L140.7,135.4 L141.1,134.2 L141.5,133.0 L141.9,131.9 L142.2,130.7 L142.6,129.5 L143.0,128.3 L143.4,127.1 L143.8,126.0 L144.2,124.8 L144.6,123.6 L145.0,122.4 L145.4,121.2 L145.8,120.1 L146.2,118.9 L146.6,117.7 L147.0,116.5 L147.4,115.4 L147.8,114.2 L148.2,113.0 L148.6,111.8 L149.0,110.6 L149.4,109.5 L149.8,108.3 L150.2,107.1 L150.6,105.9 L151.1,104.8 L151.5,103.6 L151.9,102.4 L152.3,101.2 L152.8,100.1 L153.2,98.9 L153.6,97.7 L154.1,96.5 L154.5,95.4 L155.0,94.2 L155.4,93.0 L155.9,91.8 L156.3,90.7 L156.8,89.5 L157.2,88.3 L157.7,87.1 L158.1,85.9 L158.6,84.8 L159.1,83.6 L159.6,82.4 L160.0,81.2 L160.5,80.1 L161.0,78.9 L161.5,77.8 L162.1,76.6 L162.6,75.5 L163.2,74.4 L163.8,73.3 L164.4,72.2 L165.0,71.1 L165.7,70.0 L166.4,69.0 L167.1,68.0 L167.8,67.0 L168.6,66.1 L169.4,65.1 L170.3,64.2 L171.2,63.4 L172.2,62.5 L173.1,61.7 L174.2,61.0 L175.3,60.2 L176.4,59.6 L177.5,59.0 L178.7,58.5 L179.9,58.2 L181.1,58.1 L182.2,58.3 L183.3,58.8 L184.4,59.5 L185.3,60.4 L186.2,61.4 L187.0,62.5 L187.8,63.6 L188.5,64.7 L189.1,65.9 L189.7,66.9 L190.3,68.0 L190.9,69.1 L191.4,70.1 L192.0,71.2 L192.5,72.2 L193.1,73.3 L193.7,74.3 L194.2,75.4 L194.8,76.4 L195.4,77.5 L196.0,78.6 L196.5,79.7 L197.1,80.8 L197.7,82.0 L198.2,83.1 L198.8,84.3 L199.3,85.4 L199.8,86.6 L200.3,87.8 L200.8,88.9 L201.2,90.1 L201.7,91.3 L202.1,92.4 L202.6,93.6 L203.0,94.8 L203.4,96.0 L203.8,97.1 L204.2,98.3 L204.5,99.5 L204.9,100.7 L205.3,101.9 L205.6,103.1 L206.0,104.3 L206.3,105.5 L206.6,106.7 L207.0,107.9 L207.3,109.1 L207.6,110.3 L207.9,111.5 L208.2,112.7 L208.5,113.9 L208.8,115.1 L209.1,116.3 L209.4,117.6 L209.7,118.8 L209.9,120.0 L210.2,121.2 L210.5,122.4 L210.8,123.7 L211.0,124.9 L211.3,126.1 L211.6,127.3 L211.9,128.6 L212.1,129.8 L212.4,131.0 L212.7,132.2 L213.0,133.4 L213.2,134.7 L213.5,135.9 L213.8,137.1 L214.0,138.3 L214.3,139.5 L214.6,140.8 L214.9,142.0 L215.1,143.2 L215.4,144.4 L215.7,145.7 L215.9,146.9 L216.2,148.1 L216.5,149.3 L216.7,150.5 L217.0,151.8 L217.3,153.0 L217.5,154.2 L217.8,155.4 L218.0,156.6 L218.3,157.9 L218.6,159.1 L218.8,160.3 L219.1,161.5 L219.3,162.7 L219.6,164.0 L219.9,165.2 L220.1,166.4 L220.4,167.6 L220.6,168.8 L220.9,170.1 L221.1,171.3 L221.4,172.5 L221.6,173.7 L221.9,175.0 L222.1,176.2 L222.4,177.4 L222.6,178.6 L222.9,179.8 L223.1,181.1 L223.4,182.3 L223.6,183.5 L223.8,184.7 L224.1,186.0 L224.3,187.2 L224.6,188.4 L224.8,189.6 L225.0,190.9 L225.3,192.1 L225.5,193.3 L225.7,194.5 L225.9,195.8 L226.2,197.0 L226.4,198.2 L226.6,199.4 L226.9,200.7 L227.1,201.9 L227.3,203.1 L227.5,204.4 L227.7,205.6 L228.0,206.8 L228.2,208.0 L228.4,209.3 L228.6,210.5 L228.8,211.7 L229.0,213.0 L229.2,214.2 L229.4,215.4 L229.6,216.7 L229.9,217.9 L230.1,219.1 L230.3,220.4 L230.5,221.6 L230.7,222.8 L230.9,224.1 L231.1,225.3 L231.3,226.6 L231.5,227.8 L231.7,229.0 L231.9,230.3 L232.1,231.5 L232.3,232.7 L232.5,234.0 L232.6,235.2 L232.8,236.5 L233.0,237.7 L233.2,238.9 L233.4,240.2 L233.6,241.4 L233.8,242.6 L234.0,243.9 L234.2,245.1 L234.4,246.4 L234.6,247.6 L234.8,248.8 L235.0,250.1 L235.2,251.3 L235.4,252.5 L235.6,253.8 L235.8,255.0 L236.0,256.2 L236.2,257.5 L236.4,258.7 L236.6,260.0 L236.8,261.2 L237.1,262.4 L237.3,263.7 L237.5,264.9 L237.7,266.1 L237.9,267.4 L238.1,268.6 L238.3,269.8 L238.5,271.1 L238.8,272.3 L239.0,273.5 L239.2,274.8 L239.4,276.0 L239.7,277.2 L239.9,278.4 L240.1,279.7 L240.4,280.9 L240.6,282.1 L240.8,283.4 L241.1,284.6 L241.3,285.8 L241.6,287.0 L241.8,288.3 L242.1,289.5 L242.3,290.7 L242.6,291.9 L242.9,293.1 L243.1,294.4 L243.4,295.6 L243.7,296.8 L243.9,298.0 L244.2,299.2 L244.5,300.4 L244.8,301.7 L245.0,302.9 L245.3,304.1 L245.6,305.3 L245.9,306.5 L246.2,307.7 L246.5,308.9 L246.8,310.1 L247.1,311.3 L247.5,312.5 L247.8,313.7 L248.1,315.0 L248.4,316.2 L248.8,317.4 L249.1,318.6 L249.4,319.8 L249.8,320.9 L250.1,322.1 L250.5,323.3 L250.9,324.5 L251.2,325.7 L251.6,326.9 L252.0,328.1 L252.3,329.3 L252.7,330.5 L253.1,331.7 L253.5,332.8 L253.9,334.0 L254.3,335.2 L254.8,336.4 L255.2,337.5 L255.7,338.7 L256.1,339.8 L256.6,341.0 L257.1,342.1 L257.6,343.3 L258.1,344.4 L258.7,345.5 L259.2,346.7 L259.8,347.8 L260.4,348.9 L261.0,350.0 L261.6,351.1 L262.3,352.1 L263.0,353.2 L263.7,354.3 L264.4,355.3 L265.2,356.4 L265.9,357.4 L266.7,358.4 L267.5,359.4 L268.4,360.3 L269.3,361.2 L270.2,362.1 L271.1,362.9 L272.1,363.7 L273.1,364.4 L274.1,365.1 L275.2,365.7 L276.3,366.2 L277.4,366.7 L278.6,367.0 L279.8,367.3 L281.0,367.6 L282.2,367.7 L283.5,367.8 L284.8,367.9 L286.1,367.8 L287.4,367.8 L288.7,367.7 L290.0,367.5 L291.2,367.4 L292.5,367.2 L293.7,367.0 L295.0,366.8 L296.1,366.6 L297.3,366.6 L298.4,366.8 L299.4,367.2 L300.5,367.8 L301.5,368.4 L302.5,369.2 L303.5,370.1 L304.5,370.9 L305.5,371.8 L306.5,372.7 L307.6,373.5 L308.7,374.2 L309.9,374.8 L311.0,375.3 L312.2,375.7 L313.4,375.8 L314.6,375.9 L315.8,375.7 L317.0,375.4 L318.1,374.9 L319.2,374.3 L320.2,373.6 L321.3,372.7 L322.2,371.8 L323.2,370.8 L324.1,369.7 L324.9,368.7 L325.7,367.5 L326.5,366.4 L327.2,365.3 L327.8,364.3 L328.5,363.2 L329.0,362.1 L329.6,361.1 L330.2,360.1 L330.8,359.1 L331.4,358.1 L332.0,357.1 L332.6,356.1 L333.2,355.1 L333.9,354.2 L334.6,353.2 L335.3,352.3 L336.0,351.3 L336.7,350.4 L337.5,349.4 L338.2,348.4 L339.0,347.4 L339.7,346.4 L340.4,345.4 L341.2,344.4 L341.9,343.4 L342.6,342.3 L343.3,341.2 L344.0,340.1 L344.7,338.9 L345.3,337.8 L345.9,336.7 L346.5,335.5 L347.1,334.4 L347.7,333.2 L348.2,332.1 L348.8,330.9 L349.3,329.8 L349.8,328.6 L350.2,327.5 L350.7,326.3 L351.2,325.2 L351.6,324.0 L352.0,322.9 L352.5,321.7 L352.9,320.5 L353.2,319.4 L353.6,318.2 L354.0,317.0 L354.4,315.9 L354.7,314.7 L355.1,313.5 L355.4,312.4 L355.7,311.2 L356.1,310.0 L356.4,308.8 L356.7,307.7 L357.0,306.5 L357.3,305.3 L357.6,304.1 L357.9,302.9 L358.2,301.7 L358.6,300.6 L358.9,299.4 L359.2,298.2 L359.5,297.0 L359.8,295.8 L360.1,294.6 L360.4,293.4 L360.7,292.2 L361.0,291.0 L361.3,289.8 L361.6,288.6 L361.9,287.4 L362.2,286.2 L362.5,285.0 L362.8,283.8 L363.1,282.6 L363.4,281.4 L363.6,280.2 L363.9,279.0 L364.2,277.8 L364.5,276.6 L364.8,275.4 L365.1,274.2 L365.4,272.9 L365.7,271.7 L366.0,270.5 L366.3,269.3 L366.6,268.1 L366.9,266.9 L367.1,265.7 L367.4,264.4 L367.7,263.2 L368.0,262.0 L368.3,260.8 L368.5,259.6 L368.8,258.3 L369.1,257.1 L369.4,255.9 L369.6,254.7 L369.9,253.4 L370.2,252.2 L370.4,251.0 L370.7,249.8 L371.0,248.5 L371.2,247.3 L371.5,246.1 L371.7,244.9 L372.0,243.6 L372.3,242.4 L372.5,241.2 L372.8,240.0 L373.0,238.7 L373.3,237.5 L373.5,236.3 L373.8,235.0 L374.0,233.8 L374.3,232.6 L374.5,231.3 L374.8,230.1 L375.0,228.9 L375.3,227.7 L375.5,226.4 L375.7,225.2 L376.0,224.0 L376.2,222.7 L376.5,221.5 L376.7,220.3 L376.9,219.0 L377.2,217.8 L377.4,216.6 L377.7,215.3 L377.9,214.1 L378.2,212.9 L378.4,211.6 L378.6,210.4 L378.9,209.2 L379.1,208.0 L379.4,206.7 L379.6,205.5 L379.8,204.3 L380.1,203.0 L380.3,201.8 L380.6,200.6 L380.8,199.3 L381.0,198.1 L381.3,196.9 L381.5,195.7 L381.8,194.4 L382.0,193.2 L382.3,192.0 L382.5,190.7 L382.8,189.5 L383.0,188.3 L383.3,187.1 L383.5,185.8 L383.8,184.6 L384.1,183.4 L384.3,182.2 L384.6,180.9 L384.9,179.7 L385.2,178.5 L385.4,177.3 L385.7,176.1 L386.0,174.8 L386.3,173.6 L386.6,172.4 L386.9,171.2 L387.2,170.0 L387.5,168.7 L387.8,167.5 L388.1,166.3 L388.4,165.1 L388.7,163.9 L389.1,162.7 L389.4,161.5 L389.7,160.2 L390.1,159.0 L390.4,157.8 L390.8,156.6 L391.1,155.4 L391.5,154.2 L391.8,153.0 L392.2,151.8 L392.6,150.6 L393.0,149.4 L393.3,148.2 L393.7,147.0 L394.1,145.8 L394.4,144.6 L394.8,143.4 L395.1,142.2 L395.4,141.0 L395.8,139.8 L396.1,138.6 L396.4,137.4 L396.7,136.2 L397.0,135.0 L397.3,133.8 L397.6,132.6 L397.9,131.4 L398.2,130.3 L398.5,129.1 L398.8,127.9 L399.1,126.7 L399.4,125.5 L399.7,124.3 L400.0,123.1 L400.3,121.9 L400.6,120.7 L400.9,119.6 L401.2,118.4 L401.5,117.2 L401.8,116.0 L402.1,114.8 L402.4,113.6 L402.7,112.4 L403.1,111.2 L403.4,110.1 L403.8,108.9 L404.1,107.7 L404.5,106.5 L404.8,105.3 L405.2,104.1 L405.6,102.9 L406.0,101.8 L406.3,100.6 L406.7,99.4 L407.1,98.2 L407.5,97.0 L407.9,95.8 L408.3,94.6 L408.7,93.4 L409.2,92.3 L409.6,91.1 L410.0,89.9 L410.4,88.7 L410.9,87.5 L411.3,86.3 L411.8,85.1 L412.2,83.9 L412.7,82.8 L413.1,81.6 L413.6,80.4 L414.1,79.2 L414.6,78.1 L415.2,76.9 L415.7,75.8 L416.3,74.7 L416.9,73.6 L417.6,72.5 L418.3,71.5 L419.0,70.5 L419.8,69.5 L420.6,68.6 L421.4,67.6 L422.3,66.7 L423.3,65.9 L424.3,65.1 L425.3,64.3 L426.4,63.6 L427.6,63.1 L428.8,62.6 L429.9,62.3 L431.2,62.2 L432.4,62.3 L433.6,62.5 L434.8,62.8 L435.9,63.3 L437.1,63.9 L438.1,64.6 L439.2,65.4 L440.1,66.2 L441.0,67.1 L441.9,68.0 L442.6,69.0 L443.3,70.0 L444.0,71.1 L444.6,72.1 L445.2,73.2 L445.8,74.3 L446.4,75.4 L447.0,76.5 L447.6,77.6 L448.1,78.7 L448.7,79.9 L449.3,81.0 L449.8,82.1 L450.4,83.2 L451.0,84.3 L451.5,85.5 L452.1,86.6 L452.6,87.7 L453.2,88.8 L453.7,90.0 L454.2,91.1 L454.8,92.2 L455.3,93.4 L455.8,94.5 L456.4,95.7 L456.9,96.8 L457.4,97.9 L457.9,99.1 L458.5,100.2 L459.0,101.4 L459.5,102.5 L460.0,103.7 L460.5,104.8 L461.0,106.0 L461.5,107.1 L462.0,108.3 L462.5,109.4 L463.0,110.6 L463.5,111.7 L464.0,112.9 L464.5,114.0 L465.0,115.2 L465.5,116.3 L466.0,117.5 L466.4,118.6 L466.9,119.8 L467.4,120.9 L467.9,122.1 L468.4,123.2 L468.8,124.4 L469.3,125.5 L469.8,126.7 L470.2,127.8 L470.7,129.0 L471.2,130.1 L471.6,131.3 L472.1,132.4 L472.6,133.6 L473.0,134.8 L473.5,135.9 L473.9,137.1 L474.4,138.2 L474.8,139.4 L475.3,140.5 L475.7,141.7 L476.2,142.9 L476.6,144.0 L477.1,145.2 L477.5,146.3 L478.0,147.5 L478.4,148.7 L478.9,149.8 L479.3,151.0 L479.8,152.2 L480.2,153.3 L480.6,154.5 L481.1,155.7 L481.5,156.8 L482.0,158.0 L482.4,159.2 L482.8,160.3 L483.3,161.5 L483.7,162.7 L484.1,163.9 L484.6,165.0 L485.0,166.2 L485.5,167.4 L485.9,168.6 L486.3,169.7 L486.8,170.9 L487.2,172.1 L487.7,173.3 L488.1,174.4 L488.6,175.6 L489.0,176.8 L489.5,178.0 L489.9,179.1 L490.4,180.3 L490.9,181.5 L491.3,182.6 L491.8,183.8 L492.3,185.0 L492.8,186.1 L493.3,187.3 L493.7,188.4 L494.2,189.6 L494.7,190.7 L495.3,191.9 L495.8,193.0 L496.3,194.1 L496.8,195.3 L497.4,196.4 L497.9,197.5 L498.4,198.6 L499.0,199.8 L499.6,200.9 L500.1,202.0 L500.7,203.1 L501.3,204.2 L501.9,205.3 L502.5,206.4 L503.1,207.4 L503.8,208.5 L504.4,209.6 L505.0,210.6 L505.7,211.7 L506.3,212.8 L507.0,213.8 L507.7,214.8 L508.4,215.9 L509.1,216.9 L509.8,217.9"/>
<path stroke="#7E2F8E" d="M82.4,225.3 L83.4,226.3 L84.2,227.4 L85.0,228.4 L85.7,229.5 L86.3,230.5 L86.9,231.6 L87.6,232.7 L88.2,233.7 L88.8,234.8 L89.4,235.8 L90.1,236.8 L90.8,237.9 L91.5,238.9 L92.4,239.9 L93.3,240.8 L94.3,241.7 L95.4,242.6 L96.5,243.3 L97.6,243.9 L98.8,244.2 L99.9,244.4 L101.0,244.3 L102.1,243.9 L103.2,243.4 L104.2,242.6 L105.2,241.7 L106.1,240.7 L107.0,239.5 L107.7,238.4 L108.4,237.2 L109.0,236.0 L109.5,234.8 L109.9,233.6 L110.3,232.5 L110.6,231.3 L110.9,230.1 L111.2,229.0 L111.5,227.8 L111.8,226.7 L112.1,225.5 L112.4,224.3 L112.8,223.2 L113.1,222.0 L113.5,220.8 L113.9,219.7 L114.3,218.5 L114.7,217.3 L115.1,216.1 L115.5,215.0 L115.9,213.8 L116.3,212.6 L116.7,211.4 L117.1,210.2 L117.5,209.0 L117.9,207.8 L118.3,206.6 L118.6,205.4 L119.0,204.2 L119.3,203.1 L119.6,201.9 L119.9,200.7 L120.2,199.4 L120.5,198.2 L120.8,197.0 L121.1,195.8 L121.4,194.6 L121.6,193.4 L121.9,192.2 L122.1,191.0 L122.4,189.8 L122.6,188.6 L122.9,187.4 L123.1,186.1 L123.4,184.9 L123.6,183.7 L123.9,182.5 L124.2,181.3 L124.4,180.1 L124.7,178.8 L125.0,177.6 L125.2,176.4 L125.5,175.2 L125.8,173.9 L126.1,172.7 L126.3,171.5 L126.6,170.3 L126.9,169.1 L127.2,167.8 L127.5,166.6 L127.8,165.4 L128.1,164.2 L128.4,162.9 L128.6,161.7 L128.9,160.5 L129.2,159.3 L129.5,158.0 L129.8,156.8 L130.1,155.6 L130.4,154.4 L130.7,153.1 L131.0,151.9 L131.4,150.7 L131.7,149.5 L132.0,148.3 L132.3,147.0 L132.6,145.8 L132.9,144.6 L133.2,143.4 L133.5,142.2 L133.8,140.9 L134.1,139.7 L134.4,138.5 L134.7,137.3 L135.0,136.1 L135.3,134.9 L135.6,133.7 L135.9,132.4 L136.2,131.2 L136.5,130.0 L136.8,128.8 L137.2,127.6 L137.5,126.4 L137.8,125.2 L138.1,124.0 L138.4,122.8 L138.7,121.6 L139.1,120.4 L139.4,119.2 L139.7,118.0 L140.0,116.8 L140.4,115.6 L140.7,114.4 L141.1,113.2 L141.4,112.0 L141.8,110.9 L142.1,109.7 L142.5,108.5 L142.8,107.3 L143.2,106.1 L143.6,105.0 L144.0,103.8 L144.4,102.6 L144.8,101.4 L145.2,100.3 L145.6,99.1 L146.0,97.9 L146.4,96.8 L146.8,95.6 L147.3,94.4 L147.7,93.3 L148.1,92.1 L148.6,91.0 L149.1,89.8 L149.5,88.7 L150.0,87.5 L150.5,86.4 L151.0,85.3 L151.5,84.1 L152.0,83.0 L152.6,81.9 L153.1,80.7 L153.6,79.6 L154.2,78.5 L154.8,77.4 L155.3,76.2 L155.9,75.1 L156.5,74.0 L157.1,72.9 L157.7,71.8 L158.4,70.7 L159.0,69.6 L159.7,68.5 L160.3,67.4 L161.0,66.3 L161.7,65.2 L162.4,64.1 L163.1,63.0 L163.9,62.0 L164.6,60.9 L165.4,59.9 L166.2,58.9 L167.0,57.9 L167.8,57.0 L168.7,56.1 L169.6,55.2 L170.6,54.5 L171.6,53.8 L172.6,53.2 L173.7,52.7 L174.9,52.3 L176.1,52.0 L177.3,51.8 L178.6,51.7 L179.8,51.8 L181.1,52.0 L182.3,52.2 L183.5,52.6 L184.7,53.1 L185.8,53.7 L186.8,54.4 L187.8,55.2 L188.8,56.0 L189.6,56.9 L190.4,57.8 L191.1,58.8 L191.7,59.9 L192.3,60.9 L192.9,62.1 L193.4,63.2 L193.9,64.3 L194.4,65.5 L194.9,66.7 L195.4,67.8 L195.8,69.0 L196.3,70.2 L196.7,71.4 L197.1,72.6 L197.5,73.8 L197.9,75.0 L198.3,76.2 L198.7,77.4 L199.1,78.6 L199.5,79.9 L199.8,81.1 L200.2,82.3 L200.5,83.5 L200.9,84.7 L201.2,86.0 L201.5,87.2 L201.9,88.4 L202.2,89.6 L202.5,90.8 L202.8,92.0 L203.1,93.2 L203.4,94.4 L203.7,95.6 L203.9,96.9 L204.2,98.1 L204.5,99.3 L204.8,100.5 L205.0,101.7 L205.3,102.9 L205.5,104.1 L205.8,105.3 L206.0,106.5 L206.3,107.7 L206.6,109.0 L206.8,110.2 L207.0,111.4 L207.3,112.6 L207.5,113.8 L207.8,115.0 L208.0,116.3 L208.3,117.5 L208.5,118.7 L208.7,119.9 L209.0,121.2 L209.2,122.4 L209.5,123.6 L209.7,124.8 L209.9,126.1 L210.2,127.3 L210.4,128.5 L210.6,129.8 L210.8,131.0 L211.1,132.2 L211.3,133.5 L211.5,134.7 L211.7,135.9 L211.9,137.2 L212.1,138.4 L212.4,139.7 L212.6,140.9 L212.8,142.1 L213.0,143.4 L213.2,144.6 L213.4,145.8 L213.6,147.1 L213.8,148.3 L214.0,149.6 L214.2,150.8 L214.4,152.0 L214.5,153.3 L214.7,154.5 L214.9,155.8 L215.1,157.0 L215.3,158.2 L215.4,159.5 L215.6,160.7 L215.8,162.0 L215.9,163.2 L216.1,164.4 L216.3,165.7 L216.4,166.9 L216.6,168.2 L216.8,169.4 L216.9,170.6 L217.1,171.9 L217.2,173.1 L217.4,174.4 L217.5,175.6 L217.6,176.8 L217.8,178.1 L217.9,179.3 L218.1,180.6 L218.2,181.8 L218.3,183.0 L218.5,184.3 L218.6,185.5 L218.7,186.8 L218.9,188.0 L219.0,189.2 L219.1,190.5 L219.3,191.7 L219.4,193.0 L219.5,194.2 L219.6,195.4 L219.7,196.7 L219.9,197.9 L220.0,199.2 L220.1,200.4 L220.2,201.7 L220.3,202.9 L220.5,204.1 L220.6,205.4 L220.7,206.6 L220.8,207.9 L220.9,209.1 L221.0,210.3 L221.1,211.6 L221.2,212.8 L221.4,214.1 L221.5,215.3 L221.6,216.6 L221.7,217.8 L221.8,219.0 L221.9,220.3 L222.0,221.5 L222.1,222.8 L222.2,224.0 L222.3,225.3 L222.4,226.5 L222.6,227.7 L222.7,229.0 L222.8,230.2 L222.9,231.5 L223.0,232.7 L223.1,234.0 L223.2,235.2 L223.3,236.4 L223.4,237.7 L223.5,238.9 L223.7,240.2 L223.8,241.4 L223.9,242.7 L224.0,243.9 L224.1,245.2 L224.2,246.4 L224.3,247.7 L224.5,248.9 L224.6,250.2 L224.7,251.4 L224.8,252.6 L224.9,253.9 L225.1,255.1 L225.2,256.4 L225.3,257.6 L225.4,258.9 L225.6,260.1 L225.7,261.4 L225.8,262.6 L225.9,263.9 L226.1,265.1 L226.2,266.4 L226.3,267.6 L226.5,268.9 L226.6,270.1 L226.8,271.4 L226.9,272.6 L227.1,273.9 L227.2,275.1 L227.4,276.3 L227.5,277.6 L227.7,278.8 L227.8,280.1 L228.0,281.3 L228.1,282.6 L228.3,283.8 L228.5,285.1 L228.7,286.3 L228.8,287.5 L229.0,288.8 L229.2,290.0 L229.4,291.3 L229.5,292.5 L229.7,293.7 L229.9,295.0 L230.1,296.2 L230.3,297.4 L230.5,298.7 L230.7,299.9 L230.9,301.2 L231.1,302.4 L231.4,303.6 L231.6,304.8 L231.8,306.1 L232.0,307.3 L232.3,308.5 L232.5,309.8 L232.7,311.0 L233.0,312.2 L233.2,313.4 L233.5,314.7 L233.7,315.9 L234.0,317.1 L234.3,318.3 L234.5,319.5 L234.8,320.7 L235.1,322.0 L235.4,323.2 L235.7,324.4 L235.9,325.6 L236.2,326.8 L236.5,328.0 L236.9,329.2 L237.2,330.4 L237.5,331.6 L237.8,332.8 L238.1,334.0 L238.5,335.2 L238.8,336.4 L239.1,337.6 L239.5,338.8 L239.8,340.0 L240.2,341.2 L240.6,342.4 L240.9,343.6 L241.3,344.7 L241.7,345.9 L242.1,347.1 L242.5,348.3 L242.9,349.5 L243.3,350.6 L243.7,351.8 L244.1,353.0 L244.6,354.2 L245.0,355.3 L245.4,356.5 L245.9,357.6 L246.3,358.8 L246.8,360.0 L247.3,361.1 L247.7,362.3 L248.2,363.4 L248.7,364.6 L249.2,365.7 L249.7,366.8 L250.3,368.0 L250.8,369.1 L251.4,370.2 L252.0,371.3 L252.6,372.4 L253.2,373.5 L253.8,374.6 L254.5,375.7 L255.1,376.7 L255.8,377.8 L256.5,378.8 L257.3,379.9 L258.1,380.9 L258.9,381.9 L259.7,382.9 L260.5,383.9 L261.4,384.8 L262.3,385.8 L263.3,386.6 L264.2,387.4 L265.2,388.2 L266.3,388.8 L267.4,389.4 L268.5,389.9 L269.6,390.3 L270.8,390.6 L272.0,390.9 L273.2,391.0 L274.4,391.1 L275.6,391.1 L276.9,391.1 L278.1,391.0 L279.4,390.9 L280.6,390.7 L281.9,390.5 L283.1,390.2 L284.3,389.9 L285.6,389.6 L286.8,389.2 L288.0,388.8 L289.3,388.5 L290.6,388.1 L291.8,387.7 L293.1,387.4 L294.3,387.3 L295.5,387.2 L296.7,387.3 L297.9,387.6 L299.0,388.1 L300.0,388.7 L301.0,389.5 L301.9,390.3 L302.8,391.2 L303.6,392.2 L304.3,393.2 L305.0,394.3 L305.7,395.3 L306.4,396.4 L307.0,397.5 L307.7,398.6 L308.4,399.7 L309.2,400.7 L309.9,401.7 L310.8,402.6 L311.7,403.5 L312.8,404.3 L313.8,404.9 L315.0,405.4 L316.1,405.6 L317.3,405.6 L318.4,405.2 L319.5,404.6 L320.5,403.8 L321.4,402.8 L322.2,401.8 L323.0,400.6 L323.6,399.4 L324.3,398.2 L324.9,397.0 L325.4,395.8 L326.0,394.6 L326.6,393.4 L327.3,392.3 L327.9,391.1 L328.5,390.0 L329.2,389.0 L329.8,387.9 L330.5,386.9 L331.2,385.9 L331.9,384.9 L332.6,384.0 L333.3,383.0 L334.1,382.0 L334.8,381.1 L335.6,380.2 L336.3,379.3 L337.1,378.4 L337.9,377.5 L338.7,376.6 L339.5,375.7 L340.3,374.8 L341.1,373.9 L342.0,372.9 L342.8,372.0 L343.7,371.1 L344.5,370.2 L345.4,369.3 L346.2,368.4 L347.1,367.4 L347.9,366.5 L348.8,365.6 L349.6,364.6 L350.4,363.7 L351.2,362.7 L352.0,361.7 L352.8,360.7 L353.6,359.7 L354.4,358.7 L355.1,357.7 L355.8,356.7 L356.5,355.7 L357.2,354.6 L357.8,353.5 L358.4,352.5 L359.0,351.4 L359.6,350.3 L360.2,349.2 L360.7,348.1 L361.2,347.0 L361.7,345.8 L362.2,344.7 L362.7,343.5 L363.1,342.4 L363.5,341.2 L364.0,340.0 L364.4,338.9 L364.7,337.7 L365.1,336.5 L365.5,335.3 L365.8,334.1 L366.2,332.9 L366.5,331.7 L366.8,330.4 L367.1,329.2 L367.4,328.0 L367.7,326.8 L368.0,325.5 L368.3,324.3 L368.6,323.1 L368.9,321.8 L369.1,320.6 L369.4,319.4 L369.7,318.1 L369.9,316.9 L370.2,315.6 L370.4,314.4 L370.7,313.2 L370.9,311.9 L371.2,310.7 L371.5,309.5 L371.7,308.2 L372.0,307.0 L372.3,305.8 L372.5,304.5 L372.8,303.3 L373.1,302.1 L373.3,300.9 L373.6,299.7 L373.9,298.4 L374.2,297.2 L374.4,296.0 L374.7,294.8 L375.0,293.6 L375.2,292.4 L375.5,291.1 L375.8,289.9 L376.0,288.7 L376.3,287.5 L376.6,286.3 L376.8,285.1 L377.1,283.9 L377.4,282.6 L377.6,281.4 L377.9,280.2 L378.1,279.0 L378.4,277.8 L378.6,276.6 L378.9,275.3 L379.1,274.1 L379.3,272.9 L379.6,271.7 L379.8,270.5 L380.0,269.2 L380.2,268.0 L380.5,266.8 L380.7,265.6 L380.9,264.4 L381.1,263.1 L381.3,261.9 L381.5,260.7 L381.7,259.4 L381.9,258.2 L382.1,257.0 L382.3,255.7 L382.5,254.5 L382.6,253.3 L382.8,252.0 L383.0,250.8 L383.2,249.6 L383.4,248.3 L383.5,247.1 L383.7,245.9 L383.9,244.6 L384.0,243.4 L384.2,242.1 L384.3,240.9 L384.5,239.7 L384.7,238.4 L384.8,237.2 L385.0,235.9 L385.1,234.7 L385.3,233.4 L385.4,232.2 L385.6,231.0 L385.7,229.7 L385.8,228.5 L386.0,227.2 L386.1,226.0 L386.3,224.7 L386.4,223.5 L386.6,222.2 L386.7,221.0 L386.8,219.7 L387.0,218.5 L387.1,217.2 L387.2,216.0 L387.4,214.8 L387.5,213.5 L387.7,212.3 L387.8,211.0 L387.9,209.8 L388.1,208.5 L388.2,207.3 L388.3,206.0 L388.5,204.8 L388.6,203.5 L388.8,202.3 L388.9,201.0 L389.0,199.8 L389.2,198.5 L389.3,197.3 L389.5,196.1 L389.6,194.8 L389.8,193.6 L389.9,192.3 L390.1,191.1 L390.2,189.8 L390.4,188.6 L390.5,187.4 L390.7,186.1 L390.8,184.9 L391.0,183.6 L391.1,182.4 L391.3,181.1 L391.5,179.9 L391.6,178.7 L391.8,177.4 L392.0,176.2 L392.2,175.0 L392.3,173.7 L392.5,172.5 L392.7,171.3 L392.9,170.0 L393.1,168.8 L393.3,167.6 L393.4,166.3 L393.6,165.1 L393.8,163.9 L394.0,162.6 L394.2,161.4 L394.5,160.2 L394.7,159.0 L394.9,157.7 L395.1,156.5 L395.3,155.3 L395.5,154.1 L395.7,152.8 L396.0,151.6 L396.2,150.4 L396.4,149.2 L396.7,148.0 L396.9,146.7 L397.1,145.5 L397.4,144.3 L397.6,143.1 L397.9,141.9 L398.1,140.6 L398.4,139.4 L398.6,138.2 L398.9,137.0 L399.1,135.8 L399.4,134.6 L399.6,133.3 L399.9,132.1 L400.2,130.9 L400.5,129.7 L400.7,128.5 L401.0,127.3 L401.3,126.1 L401.6,124.8 L401.8,123.6 L402.1,122.4 L402.4,121.2 L402.7,120.0 L403.0,118.8 L403.3,117.6 L403.6,116.3 L403.9,115.1 L404.2,113.9 L404.5,112.7 L404.8,111.5 L405.1,110.3 L405.4,109.1 L405.7,107.9 L406.0,106.7 L406.4,105.4 L406.7,104.2 L407.0,103.0 L407.3,101.8 L407.7,100.6 L408.0,99.4 L408.3,98.2 L408.7,97.0 L409.0,95.7 L409.3,94.5 L409.7,93.3 L410.0,92.1 L410.4,90.9 L410.7,89.7 L411.1,88.5 L411.4,87.3 L411.8,86.0 L412.1,84.8 L412.5,83.6 L412.9,82.4 L413.2,81.2 L413.6,80.0 L414.0,78.8 L414.4,77.6 L414.8,76.4 L415.3,75.2 L415.7,74.1 L416.2,72.9 L416.7,71.8 L417.3,70.7 L417.8,69.6 L418.4,68.5 L419.1,67.4 L419.7,66.4 L420.5,65.4 L421.2,64.4 L422.0,63.4 L422.8,62.5 L423.7,61.6 L424.6,60.7 L425.6,59.9 L426.6,59.1 L427.7,58.4 L428.8,57.7 L429.9,57.2 L431.1,56.8 L432.3,56.5 L433.5,56.3 L434.7,56.2 L435.9,56.3 L437.2,56.5 L438.4,56.8 L439.6,57.2 L440.8,57.6 L442.0,58.2 L443.1,58.8 L444.1,59.5 L445.2,60.2 L446.1,61.0 L447.1,61.8 L448.0,62.7 L448.9,63.6 L449.8,64.5 L450.6,65.4 L451.4,66.3 L452.2,67.3 L453.0,68.2 L453.8,69.2 L454.5,70.2 L455.3,71.2 L456.0,72.2 L456.7,73.3 L457.3,74.3 L458.0,75.3 L458.7,76.4 L459.3,77.5 L459.9,78.5 L460.5,79.6 L461.1,80.7 L461.7,81.8 L462.3,82.9 L462.9,84.0 L463.4,85.2 L464.0,86.3 L464.5,87.4 L465.1,88.5 L465.6,89.7 L466.1,90.8 L466.7,92.0 L467.2,93.1 L467.7,94.2 L468.2,95.4 L468.7,96.5 L469.2,97.7 L469.7,98.8 L470.2,100.0 L470.7,101.2 L471.2,102.3 L471.7,103.5 L472.2,104.6 L472.7,105.8 L473.2,106.9 L473.6,108.1 L474.1,109.2 L474.6,110.4 L475.1,111.5 L475.6,112.7 L476.0,113.9 L476.5,115.0 L477.0,116.2 L477.4,117.3 L477.9,118.5 L478.4,119.6 L478.8,120.8 L479.3,122.0 L479.7,123.1 L480.2,124.3 L480.6,125.5 L481.0,126.6 L481.5,127.8 L481.9,129.0 L482.3,130.2 L482.8,131.3 L483.2,132.5 L483.6,133.7 L484.0,134.9 L484.4,136.0 L484.8,137.2 L485.2,138.4 L485.6,139.6 L485.9,140.8 L486.3,142.0 L486.7,143.2 L487.1,144.3 L487.4,145.5 L487.8,146.7 L488.1,147.9 L488.5,149.1 L488.8,150.3 L489.2,151.5 L489.5,152.7 L489.8,153.9 L490.1,155.1 L490.5,156.4 L490.8,157.6 L491.1,158.8 L491.4,160.0 L491.7,161.2 L492.0,162.4 L492.4,163.6 L492.7,164.8 L493.0,166.0 L493.3,167.3 L493.6,168.5 L493.9,169.7 L494.2,170.9 L494.5,172.1 L494.8,173.3 L495.1,174.5 L495.4,175.8 L495.6,177.0 L495.9,178.2 L496.2,179.4 L496.5,180.6 L496.8,181.8 L497.1,183.1 L497.4,184.3 L497.7,185.5 L498.0,186.7 L498.3,187.9 L498.7,189.1 L499.0,190.3 L499.3,191.6 L499.6,192.8 L499.9,194.0 L500.2,195.2 L500.6,196.4 L500.9,197.6 L501.2,198.8 L501.5,200.0 L501.9,201.2 L502.2,202.4 L502.6,203.6 L502.9,204.8 L503.3,206.0 L503.6,207.2 L504.0,208.4 L504.4,209.6 L504.7,210.8 L505.1,212.0 L505.5,213.2 L505.9,214.4 L506.3,215.5 L506.7,216.7 L507.1,217.9 L507.6,219.1 L508.0,220.3 L508.4,221.4 L508.9,222.6 L509.3,223.8"/>
</g>
<g font-size="20.6">
<text x="84.2" y="438.3" text-anchor="middle">0</text>
<text x="190.2" y="438.3" text-anchor="middle">0.005</text>
<text x="296.2" y="438.3" text-anchor="middle">0.01</text>
<text x="402.2" y="438.3" text-anchor="middle">0.015</text>
<text x="508.2" y="438.3" text-anchor="middle">0.02</text>
<text x="77.5" y="42.8" text-anchor="end">100</text>
<text x="77.5" y="97" text-anchor="end">0</text>
<text x="77.5" y="151" text-anchor="end"><tspan letter-spacing="1.3">-</tspan>100</text>
<text x="77.5" y="205" text-anchor="end"><tspan letter-spacing="1.3">-</tspan>200</text>
<text x="77.5" y="259" text-anchor="end"><tspan letter-spacing="1.3">-</tspan>300</text>
<text x="77.5" y="312" text-anchor="end"><tspan letter-spacing="1.3">-</tspan>400</text>
<text x="77.5" y="366" text-anchor="end"><tspan letter-spacing="1.3">-</tspan>500</text>
<text x="77.5" y="420" text-anchor="end"><tspan letter-spacing="1.3">-</tspan>600</text>
</g>
<text x="296.3" y="465.3" font-size="23.5" text-anchor="middle">t/s</text>
<text transform="translate(30.8,223.3) rotate(-90)" font-size="22.7" text-anchor="middle"><tspan font-size="24.5">λ</tspan>/(nm/m)</text>
<g font-size="19.4">
<line x1="225.5" y1="20.2" x2="245.7" y2="20.2" stroke="#0072BD" stroke-width="3.1"/>
<text x="247.9" y="27">0A/m</text>
<line x1="296.5" y1="20.2" x2="316.7" y2="20.2" stroke="#D95319" stroke-width="3.1"/>
<text x="318.9" y="27">3A/m</text>
<line x1="367.5" y1="20.2" x2="387.7" y2="20.2" stroke="#EDB120" stroke-width="3.1"/>
<text x="389.9" y="27">6A/m</text>
<line x1="438.2" y1="20.2" x2="458.4" y2="20.2" stroke="#7E2F8E" stroke-width="3.1"/>
<text x="460.3" y="27">9A/m</text>
</g>
</svg></body></html>
